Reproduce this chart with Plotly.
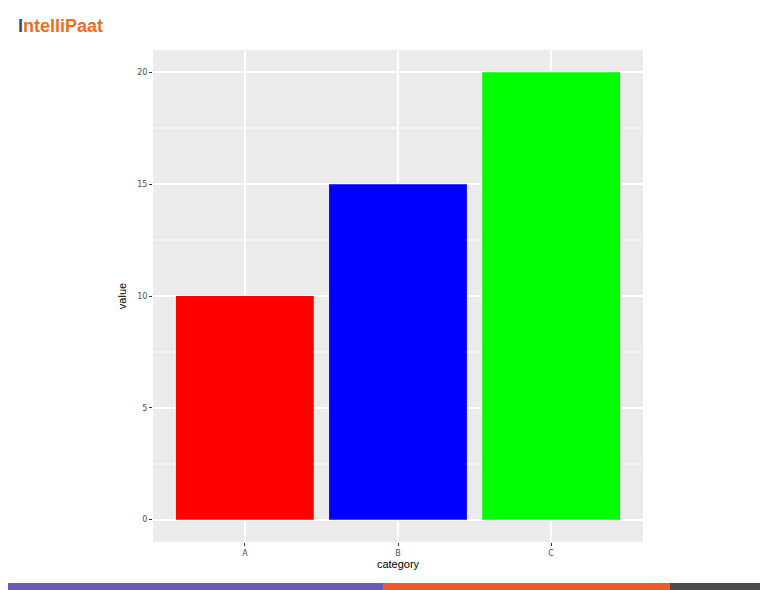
import plotly.graph_objects as go

categories = ["A", "B", "C"]
values = [10, 15, 20]
colors = ["#ff0000", "#0000ff", "#00ff00"]
y_ticks = [0, 5, 10, 15, 20]

L, T, PW, PH = 145, 42, 490, 492
def px(X): return (X - L) / PW
def py(Y): return (T + PH - Y) / PH

fig = go.Figure(go.Bar(x=categories, y=values, marker_color=colors, marker_line_width=0, width=0.9))
fig.update_layout(
    width=768, height=590, paper_bgcolor="white", plot_bgcolor="#ebebeb",
    margin=dict(l=L, r=768 - L - PW, t=T, b=590 - T - PH, autoexpand=False),
    showlegend=False,
    font=dict(family="DejaVu Sans", color="#4d4d4d", size=8),
)
fig.update_xaxes(range=[-0.6, 2.6], showgrid=True, gridcolor="white", gridwidth=1.5,
                 ticks="outside", ticklen=3, tickcolor="#333", tickfont=dict(size=8, color="#4d4d4d"),
                 title=dict(text="category", font=dict(size=11, color="black", family="Liberation Sans"), standoff=2),
                 zeroline=False)
fig.update_yaxes(range=[-1, 21], tickvals=y_ticks, showgrid=True, gridcolor="white", gridwidth=1.5,
                 ticks="outside", ticklen=3, tickcolor="#333", tickfont=dict(size=8, color="#4d4d4d"),
                 title=dict(text="value", font=dict(size=11, color="black", family="Liberation Sans"), standoff=8),
                 zeroline=False, minor=dict(tickvals=[2.5, 7.5, 12.5, 17.5], showgrid=True, gridcolor="#f5f5f5"))
stripe = [(0, 383, "#6a5bb5"), (383, 670, "#f05a28"), (670, 768, "#4d4d4d")]
for a, b, c in stripe:
    fig.add_shape(type="rect", xref="paper", yref="paper",
                  x0=px(a - 8), x1=px(b - 8), y0=py(583), y1=py(575), fillcolor=c, line_width=0)
fig.add_annotation(xref="paper", yref="paper", x=px(8), y=py(18),
                   xanchor="left", yanchor="middle", showarrow=False,
                   text="<b><span style='color:#3a3f8f'>I</span><span style='color:#f26b21'>ntelliPaat</span></b>",
                   font=dict(size=18, family="Liberation Sans"))
fig.write_html("out.html")
